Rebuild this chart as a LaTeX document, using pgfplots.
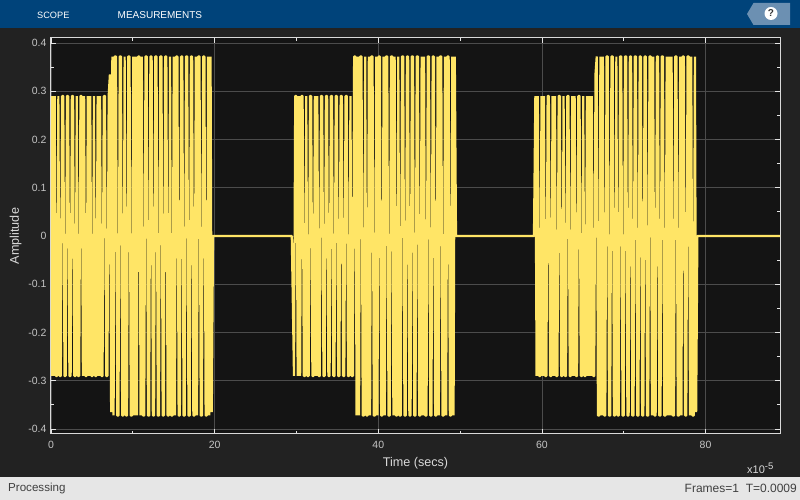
\documentclass[border=0pt]{standalone}
\usepackage{pgfplots}
\pgfplotsset{compat=1.18}
\usepackage{fontspec}
\setmainfont{Liberation Sans}
\definecolor{figbg}{HTML}{222222}
\definecolor{axbg}{HTML}{141414}
\definecolor{barblue}{HTML}{00437A}
\definecolor{helpblue}{HTML}{6C90B2}
\definecolor{statusbg}{HTML}{E6E6E6}
\definecolor{trace}{HTML}{FFE566}
\definecolor{gridc}{HTML}{4C4C4C}
\definecolor{tickc}{HTML}{C4C4C4}
\begin{document}
\begin{tikzpicture}[x=1pt,y=1pt]
\fill[figbg] (0,0) rectangle (800,500);
\fill[barblue] (0,472.3) rectangle (800,500);
\fill[statusbg] (0,0) rectangle (800,23);
\fill[helpblue] (747,486) -- (753.5,497) -- (790,497) -- (790,475) -- (753.5,475) -- cycle;
\fill[white] (771,486.5) circle (6.5);
\node[font=\fontsize{10}{12}\selectfont\bfseries,text=black!80] at (771,486.5) {?};
\node[anchor=west,text=white,font=\fontsize{9.2}{12}\selectfont,inner sep=0] at (37,485) {SCOPE};
\node[anchor=west,text=white,font=\fontsize{10}{12}\selectfont,inner sep=0] at (117.5,485) {MEASUREMENTS};
\node[anchor=west,text=black!75,font=\fontsize{11.6}{14}\selectfont,inner sep=0] at (8,11.5) {Processing};
\node[anchor=east,text=black!75,font=\fontsize{12}{14}\selectfont,inner sep=0] at (797,11.5) {Frames=1\ \ T=0.0009};
\begin{axis}[
  at={(51pt,66pt)},anchor=south west,scale only axis,width=729pt,height=396pt,
  xmin=0,xmax=89.1,ymin=-0.4104,ymax=0.4104,
  axis background/.style={fill=axbg},
  axis line style={draw=white!85!black,line width=1pt},
  xtick={0,20,40,60,80},xticklabels={0,20,40,60,80},
  ytick={-0.4,-0.3,-0.2,-0.1,0,0.1,0.2,0.3,0.4},
  yticklabels={-0.4,-0.3,-0.2,-0.1,0,0.1,0.2,0.3,0.4},
  minor x tick num=1,minor y tick num=1,
  tick align=inside,major tick length=5pt,minor tick length=3pt,
  tick style={draw=white!90!black,line width=0.8pt},
  grid=major,grid style={draw=gridc,line width=0.8pt},
  ticklabel style={text=tickc,font=\fontsize{10.5}{12}\selectfont},
  xticklabel style={yshift=-4pt},
  yticklabel style={xshift=-1pt},
  xlabel={Time (secs)},ylabel={Amplitude},
  label style={text=white!85!black,font=\fontsize{12.6}{15}\selectfont},
  xlabel style={at={(axis description cs:0.5,0)},anchor=north,yshift=-19.5pt},
  ylabel style={at={(axis description cs:0,0.5)},anchor=south,yshift=26pt},
  clip=true]
\addplot[draw=trace,line width=2.2pt,line join=bevel,mark=none] coordinates {
(0,-.29)(.15,.29)(.3,-.29)(.45,.29)(.6,-.29)(.75,-.29)(.9,.29)(1.05,-.29)(1.2,-.29)(1.35,.29)(1.5,.29)(1.65,-.29)(1.8,-.29)(1.95,.29)(2.1,.29)(2.25,-.29)(2.4,-.29)(2.55,.29)(2.7,.29)(2.85,-.29)(3,-.29)(3.15,.29)(3.3,-.29)(3.45,-.29)(3.6,.29)(3.75,.29)(3.9,-.29)(4.05,.29)(4.2,-.29)(4.35,-.29)(4.5,.29)(4.65,-.29)(4.8,.29)(4.95,-.29)(5.1,-.29)(5.25,.29)(5.4,-.29)(5.55,-.29)(5.7,.29)(5.85,-.29)(6,.29)(6.15,-.29)(6.3,-.29)(6.45,.29)(6.6,.29)(6.75,-.29)(6.9,-.29)(7.05,.29)
(7.2,.335)(7.35,-.365)(7.5,.372)(7.65,-.372)(7.8,.372)(7.95,.372)(8.1,-.372)(8.25,-.372)(8.4,.372)(8.55,.372)(8.7,-.372)(8.85,-.372)(9,.372)(9.15,-.372)(9.3,-.372)(9.45,.372)(9.6,.372)(9.75,-.372)(9.9,-.372)(10.05,.372)(10.2,-.372)(10.35,.372)(10.5,-.372)(10.65,.372)(10.8,.372)(10.95,-.372)(11.1,.372)(11.25,-.372)(11.4,-.372)(11.55,.372)(11.7,.372)(11.85,-.372)(12,-.372)(12.15,.372)(12.3,.372)(12.45,-.372)(12.6,-.372)(12.75,.372)(12.9,.372)(13.05,-.372)(13.2,-.372)(13.35,.372)(13.5,.372)(13.65,-.372)(13.8,-.372)(13.95,.372)(14.1,.372)(14.25,-.372)(14.4,-.372)(14.55,.372)(14.7,-.372)(14.85,-.372)(15,.372)(15.15,-.372)(15.3,.372)(15.45,.372)(15.6,-.372)(15.75,-.372)(15.9,.372)(16.05,.372)(16.2,-.372)(16.35,-.372)(16.5,.372)(16.65,.372)(16.8,-.372)(16.95,-.372)(17.1,.372)(17.25,.372)(17.4,-.372)(17.55,-.372)(17.7,.372)(17.85,-.372)(18,.372)(18.15,.372)(18.3,-.372)(18.45,-.372)(18.6,.372)(18.75,.372)(18.9,-.372)(19.05,-.372)(19.2,.372)(19.35,-.372)(19.5,.372)(19.65,-.365)(19.8,0)
(29.43,0)
(29.7,-.29)(29.85,.29)(30,.29)(30.15,-.29)(30.3,.29)(30.45,-.29)(30.6,.29)(30.75,.29)(30.9,-.29)(31.05,-.29)(31.2,.29)(31.35,-.29)(31.5,-.29)(31.65,.29)(31.8,.29)(31.95,-.29)(32.1,-.29)(32.25,.29)(32.4,-.29)(32.55,.29)(32.7,-.29)(32.85,-.29)(33,.29)(33.15,.29)(33.3,-.29)(33.45,-.29)(33.6,.29)(33.75,.29)(33.9,-.29)(34.05,-.29)(34.2,.29)(34.35,.29)(34.5,-.29)(34.65,-.29)(34.8,.29)(34.95,.29)(35.1,-.29)(35.25,-.29)(35.4,.29)(35.55,.29)(35.7,-.29)(35.85,-.29)(36,.29)(36.15,.29)(36.3,-.29)(36.45,-.29)(36.6,.29)(36.75,-.29)(36.9,-.29)
(37.05,.372)(37.2,.372)(37.35,-.372)(37.5,.372)(37.65,-.372)(37.8,.372)(37.95,.372)(38.1,-.372)(38.25,-.372)(38.4,.372)(38.55,-.372)(38.7,-.372)(38.85,.372)(39,-.372)(39.15,.372)(39.3,.372)(39.45,-.372)(39.6,-.372)(39.75,.372)(39.9,-.372)(40.05,.372)(40.2,.372)(40.35,-.372)(40.5,-.372)(40.65,.372)(40.8,-.372)(40.95,.372)(41.1,.372)(41.25,-.372)(41.4,-.372)(41.55,.372)(41.7,.372)(41.85,-.372)(42,.372)(42.15,-.372)(42.3,-.372)(42.45,.372)(42.6,-.372)(42.75,-.372)(42.9,.372)(43.05,.372)(43.2,-.372)(43.35,-.372)(43.5,.372)(43.65,.372)(43.8,-.372)(43.95,-.372)(44.1,.372)(44.25,.372)(44.4,-.372)(44.55,-.372)(44.7,.372)(44.85,.372)(45,-.372)(45.15,-.372)(45.3,.372)(45.45,-.372)(45.6,.372)(45.75,-.372)(45.9,-.372)(46.05,.372)(46.2,.372)(46.35,-.372)(46.5,-.372)(46.65,.372)(46.8,.372)(46.95,-.372)(47.1,-.372)(47.25,.372)(47.4,-.372)(47.55,.372)(47.7,.372)(47.85,-.372)(48,-.372)(48.15,.372)(48.3,-.372)(48.45,.372)(48.6,.372)(48.75,-.372)(48.9,-.372)(49.05,.372)(49.2,-.372)(49.35,.372)(49.5,0)
(59.03,0)
(59.2,.29)(59.35,-.29)(59.5,.29)(59.65,-.29)(59.8,-.29)(59.95,.29)(60.1,-.29)(60.25,.29)(60.4,-.29)(60.55,-.29)(60.7,.29)(60.85,.29)(61,-.29)(61.15,-.29)(61.3,.29)(61.45,-.29)(61.6,.29)(61.75,-.29)(61.9,-.29)(62.05,.29)(62.2,.29)(62.35,-.29)(62.5,-.29)(62.65,.29)(62.8,-.29)(62.95,-.29)(63.1,.29)(63.25,.29)(63.4,-.29)(63.55,-.29)(63.7,.29)(63.85,-.29)(64,.29)(64.15,-.29)(64.3,-.29)(64.45,.29)(64.6,.29)(64.75,-.29)(64.9,-.29)(65.05,.29)(65.2,-.29)(65.35,-.29)(65.5,.29)(65.65,-.29)(65.8,.29)(65.95,-.29)(66.1,.29)(66.25,-.29)(66.4,-.29)
(66.55,.335)(66.7,.372)(66.85,-.372)(67,-.372)(67.15,.372)(67.3,-.372)(67.45,.372)(67.6,-.372)(67.75,-.372)(67.9,.372)(68.05,.372)(68.2,-.372)(68.35,-.372)(68.5,.372)(68.65,.372)(68.8,-.372)(68.95,-.372)(69.1,.372)(69.25,-.372)(69.4,-.372)(69.55,.372)(69.7,.372)(69.85,-.372)(70,-.372)(70.15,.372)(70.3,.372)(70.45,-.372)(70.6,-.372)(70.75,.372)(70.9,.372)(71.05,-.372)(71.2,-.372)(71.35,.372)(71.5,.372)(71.65,-.372)(71.8,-.372)(71.95,.372)(72.1,.372)(72.25,-.372)(72.4,-.372)(72.55,.372)(72.7,.372)(72.85,-.372)(73,-.372)(73.15,.372)(73.3,.372)(73.45,-.372)(73.6,.372)(73.75,-.372)(73.9,-.372)(74.05,.372)(74.2,.372)(74.35,-.372)(74.5,-.372)(74.65,.372)(74.8,.372)(74.95,-.372)(75.1,-.372)(75.25,.372)(75.4,-.372)(75.55,.372)(75.7,-.372)(75.85,.372)(76,-.372)(76.15,-.372)(76.3,.372)(76.45,.372)(76.6,-.372)(76.75,-.372)(76.9,.372)(77.05,-.372)(77.2,.372)(77.35,.372)(77.5,-.372)(77.65,-.372)(77.8,.372)(77.95,.372)(78.1,-.372)(78.25,.372)(78.4,-.372)(78.55,-.372)(78.7,.372)(78.85,-.365)(79,0)
(89.1,0)
};
\end{axis}
\node[anchor=south west,text=white!85!black,inner sep=0,font=\fontsize{11}{13}\selectfont] at (747,26) {x10\raisebox{4pt}{\fontsize{9.5}{11}\selectfont -5}};
\end{tikzpicture}
\end{document}
